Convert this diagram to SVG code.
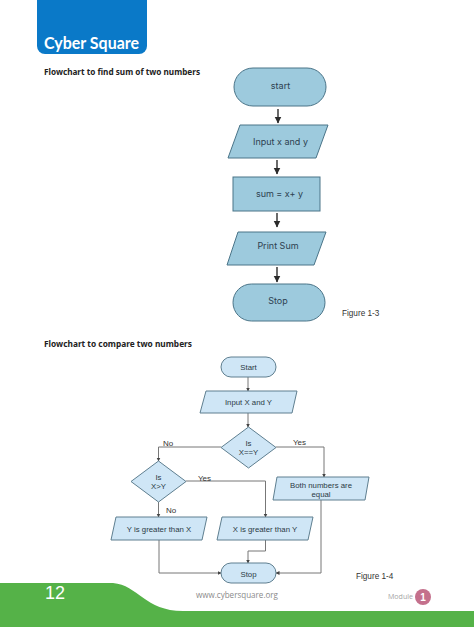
<svg xmlns="http://www.w3.org/2000/svg" width="474" height="627" viewBox="0 0 474 627">
<style>
.a{fill:#9dcadd;stroke:#4a7488;stroke-width:1}
.b{fill:#cfe6f6;stroke:#5f7f90;stroke-width:1}
.at{font:9px Inter,"Noto Sans",sans-serif;fill:#2d4150;text-anchor:middle}
.bt{font:7.8px "Liberation Sans",Arial,sans-serif;fill:#2b3a44;text-anchor:middle}
.lb{font:8px "Liberation Sans",Arial,sans-serif;fill:#333}
.fig{font:8.2px "Liberation Sans",Arial,sans-serif;fill:#333}
.ttl{font:bold 9px "Noto Sans",sans-serif;fill:#222}
.c1{fill:none;stroke:#2b2b2b;stroke-width:1.4}
.c2{fill:none;stroke:#777;stroke-width:1}
</style>
<defs>
<marker id="m1" markerUnits="userSpaceOnUse" markerWidth="8" markerHeight="8" refX="6.5" refY="3.5" orient="auto"><path d="M0 0L7 3.5L0 7z" fill="#2b2b2b"/></marker>
<marker id="m2" markerUnits="userSpaceOnUse" markerWidth="5" markerHeight="5" refX="3.5" refY="2" orient="auto"><path d="M0 0L4 2L0 4z" fill="#444"/></marker>
</defs>
<rect width="474" height="627" fill="#fff"/>
<g id="header">
<path d="M37 0H147V46a8 8 0 0 1-8 8H45a8 8 0 0 1-8-8z" fill="#0a79c8"/>
<text x="44" y="49" font-family="Lato,sans-serif" font-size="17" font-weight="700" fill="#fff" textLength="95" lengthAdjust="spacingAndGlyphs">Cyber Square</text>
</g>
<text class="ttl" x="44" y="75" textLength="156" lengthAdjust="spacingAndGlyphs">Flowchart to find sum of two numbers</text>
<text class="ttl" x="44" y="347" textLength="148" lengthAdjust="spacingAndGlyphs">Flowchart to compare two numbers</text>
<g id="footer">
<path d="M0 583H113C138 585 145 611 183 611H474V627H0z" fill="#55b248"/>
<text x="45" y="599" font-family="Liberation Sans,Arial,sans-serif" font-size="18" fill="#fff">12</text>
<text x="196" y="598" font-family="Open Sans,sans-serif" font-size="9.5" fill="#8a8a8a" textLength="82" lengthAdjust="spacingAndGlyphs">www.cybersquare.org</text>
<text x="388" y="599" font-family="Open Sans,sans-serif" font-size="8" fill="#a5a5a5" textLength="25" lengthAdjust="spacingAndGlyphs">Module</text>
<circle cx="423" cy="597" r="8" fill="#c4708c"/>
<text x="423" y="600.5" font-family="Liberation Sans,Arial,sans-serif" font-size="10" font-weight="700" fill="#fff" text-anchor="middle">1</text>
</g>
<g id="connectors">
<path class="c1" marker-end="url(#m1)" d="M278 109V123"/>
<path class="c1" marker-end="url(#m1)" d="M277 160V174"/>
<path class="c1" marker-end="url(#m1)" d="M277 213V227"/>
<path class="c1" marker-end="url(#m1)" d="M277 267V282"/>
<path class="c2" marker-end="url(#m2)" d="M248 377V391"/>
<path class="c2" marker-end="url(#m2)" d="M248 413V427"/>
<path class="c2" marker-end="url(#m2)" d="M221 447H158.500V461"/>
<path class="c2" marker-end="url(#m2)" d="M276 447H324V477"/>
<path class="c2" marker-end="url(#m2)" d="M186 481H265.500V517"/>
<path class="c2" marker-end="url(#m2)" d="M158.500 502V517"/>
<path class="c2" marker-end="url(#m2)" d="M265.500 540V551H248V563"/>
<path class="c2" marker-end="url(#m2)" d="M159 540V573H221"/>
<path class="c2" marker-end="url(#m2)" d="M321 500V573H276"/>
</g>
<g id="n-start"><rect class="a" x="234" y="68" width="92" height="38" rx="19"/><text class="at" x="280.500" y="88.500">start</text></g>
<g id="n-input"><path class="a" d="M240 125H328L316 158H228z"/><text class="at" x="280.500" y="145">Input x and y</text></g>
<g id="n-sum"><rect class="a" x="233" y="177" width="87" height="34"/><text class="at" x="279.500" y="197">sum = x+ y</text></g>
<g id="n-print"><path class="a" d="M238 232H326L314 265H227z"/><text class="at" x="278" y="249">Print Sum</text></g>
<g id="n-stop"><rect class="a" x="233" y="284" width="92" height="37" rx="18.500"/><text class="at" x="278" y="304">Stop</text></g>
<text class="fig" x="342" y="316">Figure 1-3</text>
<g id="c-start"><rect class="b" x="221" y="357" width="55" height="20" rx="10"/><text class="bt" x="248.500" y="370">Start</text></g>
<g id="c-input"><path class="b" d="M206 391H297L292 413H200z"/><text class="bt" x="248.500" y="405">Input X and Y</text></g>
<g id="c-d1"><path class="b" d="M248.500 427L276 447.500L248.500 468L221 447.500z"/><text class="bt" x="248.500" y="446">Is</text><text class="bt" x="248.500" y="455">X==Y</text></g>
<g id="c-d2"><path class="b" d="M158.500 461L186 481.500L158.500 502L131 481.500z"/><text class="bt" x="158.500" y="480">Is</text><text class="bt" x="158.500" y="489">X&gt;Y</text></g>
<g id="c-both"><path class="b" d="M277 477H369L365 500H273z"/><text class="bt" x="321" y="488">Both numbers are</text><text class="bt" x="321" y="497">equal</text></g>
<g id="c-y"><path class="b" d="M116 517H207L202 540H111z"/><text class="bt" x="159" y="531.500">Y is greater than X</text></g>
<g id="c-x"><path class="b" d="M222 517H313L308 540H217z"/><text class="bt" x="265" y="531.500">X is greater than Y</text></g>
<g id="c-stop"><rect class="b" x="221" y="563" width="55" height="20" rx="10"/><text class="bt" x="248.500" y="576.500">Stop</text></g>
<text class="lb" x="163" y="446">No</text>
<text class="lb" x="293" y="445">Yes</text>
<text class="lb" x="198" y="481">Yes</text>
<text class="lb" x="166" y="513">No</text>
<text class="fig" x="356" y="579">Figure 1-4</text>
</svg>
